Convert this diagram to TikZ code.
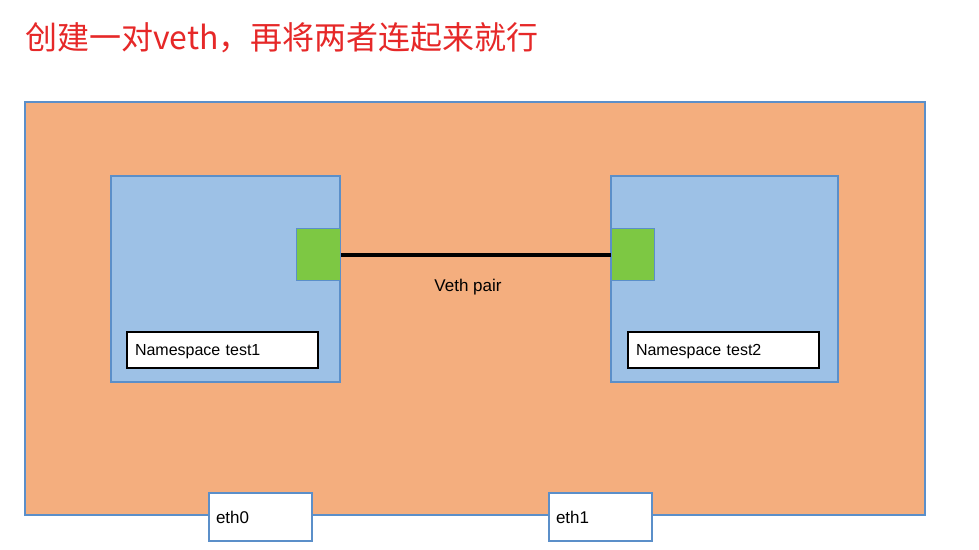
\documentclass[tikz,border=0pt]{standalone}
\usepackage{fontspec}
\setmainfont{Liberation Sans}
\newfontfamily\cjk{Noto Sans CJK SC}
\begin{document}
\begin{tikzpicture}[x=1pt,y=-1pt,
  bluebord/.style={draw={rgb,255:red,91;green,143;blue,201},line width=2pt},
  nsbox/.style={bluebord,fill={rgb,255:red,157;green,193;blue,230}},
  port/.style={draw={rgb,255:red,91;green,143;blue,201},line width=1pt,fill={rgb,255:red,125;green,200;blue,67}},
  lbl/.style={draw=black,line width=2pt,fill=white,text width=175pt,align=left,inner xsep=8pt,minimum height=36pt,text depth=0pt,font=\fontsize{16}{19}\selectfont},
  eth/.style={bluebord,fill=white,text width=89pt,align=left,inner xsep=7pt,minimum height=48pt,font=\fontsize{17}{20}\selectfont,anchor=north west}]
\useasboundingbox[fill=white] (0,0) rectangle (979,549);
\node[anchor=west,text={rgb,255:red,230;green,40;blue,40},font=\cjk\fontsize{32}{36}\selectfont,inner sep=0pt] (title) at (25,38) {创建一对veth，再将两者连起来就行};
\draw[bluebord,fill={rgb,255:red,244;green,174;blue,126}] (25,102) rectangle (925,515);
\draw[nsbox] (111,176) rectangle (340,382);
\draw[nsbox] (611,176) rectangle (838,382);
\node[port,minimum width=44pt,minimum height=52pt,inner sep=0pt,anchor=north west] (p1) at (296,228) {};
\node[port,minimum width=43pt,minimum height=52pt,inner sep=0pt,anchor=north west] (p2) at (611,228) {};
\draw[line width=4pt] (p1.east) -- (p2.west);
\node[font=\fontsize{17}{20}\selectfont] (vp) at (468,287) {Veth pair};
\node[lbl] (t1) at (222.5,350) {Namespace test1};
\node[lbl] (t2) at (723.5,350) {Namespace test2};
\node[eth] (e0) at (208,492) {eth0};
\node[eth] (e1) at (548,492) {eth1};
\end{tikzpicture}
\end{document}
